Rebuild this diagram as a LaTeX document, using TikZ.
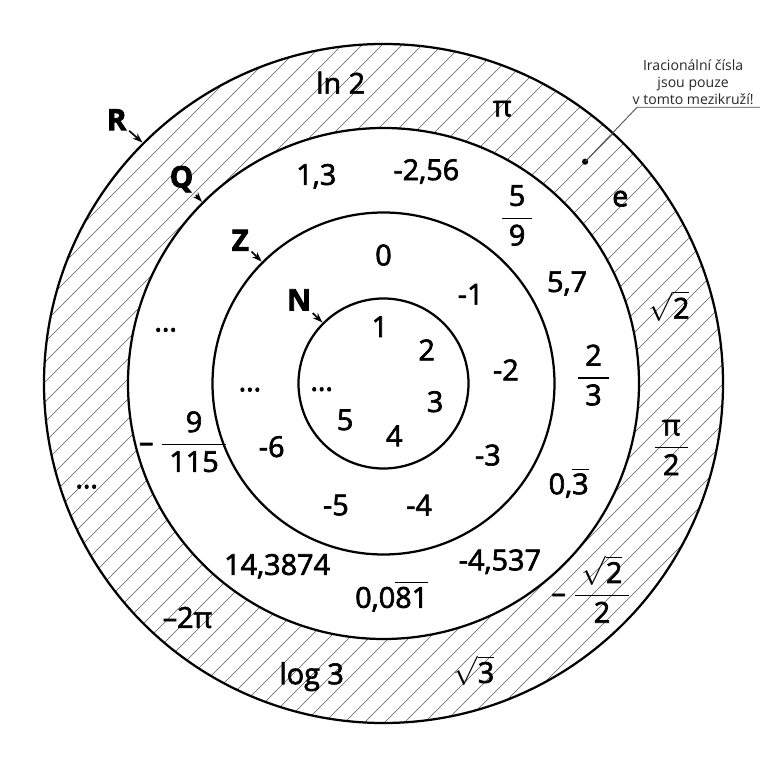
\documentclass[tikz,border=0pt]{standalone}
\usepackage{amsmath}
\usepackage{fontspec}
\setmainfont{Open Sans}[FakeBold=2.2, BoldFeatures={FakeBold=2.5}]
\newfontfamily\notefont{Open Sans}
\usetikzlibrary{arrows.meta}

\newcommand\frc[2]{\dfrac{\mbox{\hspace{5pt}#1\hspace{5pt}}}{\mbox{\hspace{5pt}#2\hspace{5pt}}}}

\begin{document}
\begin{tikzpicture}[
    num/.style={font=\fontsize{20.5}{24}\selectfont, inner sep=0pt},
    setname/.style={font=\fontsize{21}{25}\selectfont\bfseries, inner sep=1pt},
    ring/.style={line width=1.6pt},
    hatch/.style={gray!70!black, line width=0.4pt},
    pointer/.style={-{Stealth[length=7pt,width=5pt]}, line width=1.2pt, shorten >=1pt, shorten <=1pt},
    leader/.style={gray!60!black, line width=0.6pt},
    note/.style={font=\notefont\fontsize{10}{12.2}\selectfont, align=center, text=black!85, inner sep=0pt}
  ]
  \useasboundingbox (-9.5875,-9.6125) rectangle (9.6125,9.5875);

  \coordinate (C) at (0,0);
  \coordinate (RR) at (135:8.4875);
  \coordinate (QQ) at (135:6.3875);
  \coordinate (ZZ) at (135:4.275);
  \coordinate (NN) at (135:2.125);

  \begin{scope}
    \clip (C) circle (8.4875);
    \foreach \c in {-12.5,-12,...,12.5}
      \draw[hatch] ({\c-9},-9) -- ({\c+9},9);
  \end{scope}
  \fill[white] (C) circle (6.3875);

  \draw[ring] (C) circle (8.4875);
  \draw[ring] (C) circle (6.3875);
  \draw[ring] (C) circle (4.275);
  \draw[ring] (C) circle (2.125);

  \node[setname] (LR) at (-6.67,6.595) {R};
  \node[setname] (LQ) at (-5.05,5.11) {Q};
  \node[setname] (LZ) at (-3.58,3.58) {Z};
  \node[setname] (LN) at (-2.11,2.09) {N};
  \draw[pointer] (LR) -- (RR);
  \draw[pointer] (LQ) -- (QQ);
  \draw[pointer] (LZ) -- (ZZ);
  \draw[pointer] (LN) -- (NN);

  \node[num] (n1) at (-0.09,1.42) {1};
  \node[num] (n2) at (1.08,0.84) {2};
  \node[num] (n3) at (1.29,-0.455) {3};
  \node[num] (n4) at (0.27,-1.31) {4};
  \node[num] (n5) at (-0.96,-0.91) {5};
  \node[num] (ndots) at (-1.545,-0.145) {…};

  \node[num] (z0) at (0,3.21) {0};
  \node[num] (zm1) at (2.18,2.23) {-1};
  \node[num] (zm2) at (3.06,0.34) {-2};
  \node[num] (zm3) at (2.61,-1.79) {-3};
  \node[num] (zm4) at (0.89,-3.04) {-4};
  \node[num] (zm5) at (-1.19,-3.04) {-5};
  \node[num] (zm6) at (-2.795,-1.58) {-6};
  \node[num] (zdots) at (-3.34,-0.155) {…};

  \node[num] (q13) at (-1.68,5.18) {1,3};
  \node[num] (q256) at (1.07,5.30) {-2,56};
  \node[num] (q59) at (3.34,4.20) {$\frc{5}{9}$};
  \node[num] (q57) at (4.59,2.50) {5,7};
  \node[num] (q23) at (5.25,0.21) {$\frc{2}{3}$};
  \node[num] (q03) at (4.63,-2.48) {0,$\overline{\mbox{3}}$};
  \node[num] (q4537) at (2.91,-4.455) {-4,537};
  \node[num] (q0081) at (0.205,-5.32) {0,0$\overline{\mbox{81}}$};
  \node[num] (q143874) at (-2.66,-4.57) {14,3874};
  \node[num] (q9115) at (-5.005,-1.455) {$\mbox{–}\hspace{5pt}\frc{9}{115}$};
  \node[num] (qdots) at (-5.445,1.34) {…};

  \node[num] (rln2) at (-1.07,7.52) {ln 2};
  \node[num] (rpi) at (2.97,6.87) {π};
  \node[num] (re) at (5.92,4.62) {e};
  \node[num] (rsq2) at (7.14,1.93) {$\sqrt{\mbox{2}}$};
  \node[num] (rpi2) at (7.195,-1.6) {$\frc{π}{2}$};
  \node[num] (rmsq2) at (5.195,-5.14) {$\mbox{–}\hspace{5pt}\frc{$\sqrt{\mbox{2}}$}{2}$};
  \node[num] (rsq3) at (2.26,-7.18) {$\sqrt{\mbox{3}}$};
  \node[num] (rlog3) at (-1.795,-7.33) {log 3};
  \node[num] (rm2pi) at (-4.9,-5.85) {–2π};
  \node[num] (rdots) at (-7.42,-2.58) {…};

  \coordinate (Dot) at (5.04,5.545);
  \coordinate (Bend) at (6.34,6.905);
  \coordinate (End) at (9.41,6.905);
  \fill (Dot) circle (2.2pt);
  \draw[leader] (Dot) -- (Bend) -- (End);
  \node[note] (Note) at (7.74,7.53) {Iracionální čísla\\jsou pouze\\v tomto mezikruží!};
\end{tikzpicture}
\end{document}
